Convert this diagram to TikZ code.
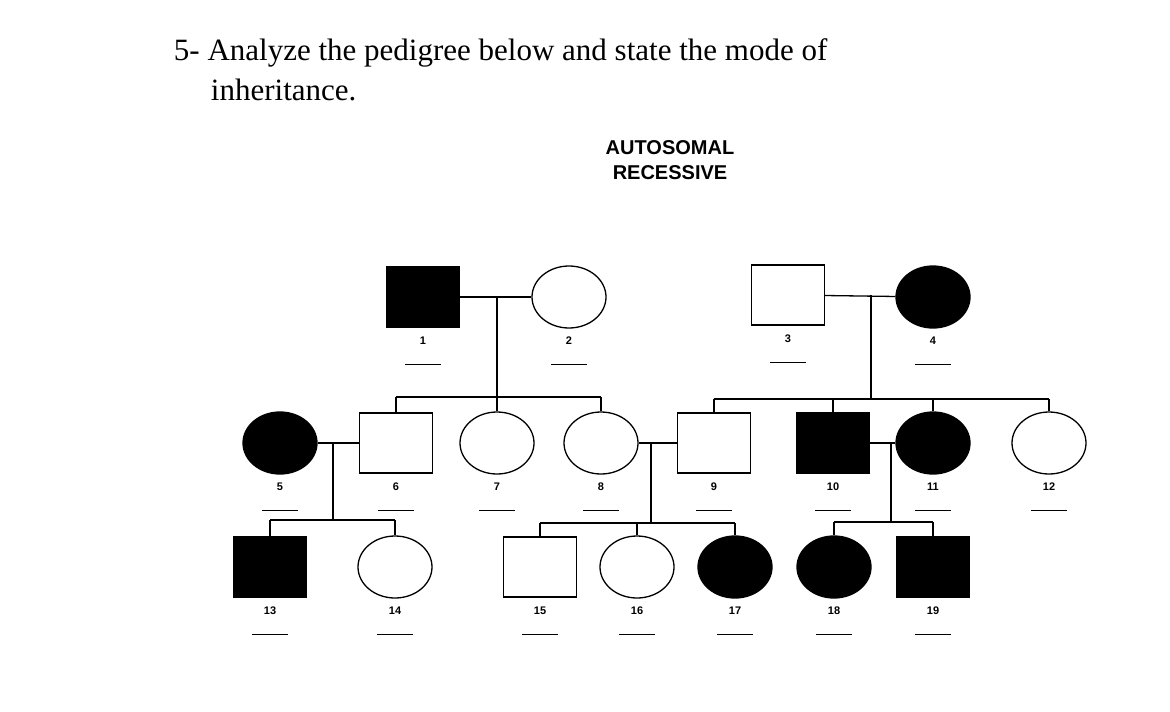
\documentclass[tikz,border=0pt]{standalone}
\usepackage{fontspec}
\setmainfont{Liberation Serif}
\newfontfamily\sansf{Liberation Sans}
\usetikzlibrary{shapes.geometric}
\begin{document}
\begin{tikzpicture}[x=1pt,y=-1pt,line width=1.3pt,
 sq/.style={draw,rectangle,minimum width=73pt,minimum height=60pt,inner sep=0pt},
 ci/.style={draw,ellipse,minimum width=74pt,minimum height=62pt,inner sep=0pt},
 aff/.style={fill=black},
 lab/.style={font=\sansf\fontsize{11}{11}\selectfont\bfseries},
 ul/.style={line width=1pt}]
\useasboundingbox (0,0) rectangle (1170,712);
\node[anchor=base west,font=\fontsize{31}{31}\selectfont] (t1) at (170,60) {5- Analyze the pedigree below and state the mode of};
\node[anchor=base west,font=\fontsize{31}{31}\selectfont] (t2) at (207,100) {inheritance.};
\node[align=center,font=\sansf\bfseries\fontsize{20}{25}\selectfont] (ans) at (670,160) {AUTOSOMAL\\RECESSIVE};
% individuals
\foreach \n/\x/\y/\s/\f in {1/423/297/sq/aff,2/569/297/ci/,3/788/295/sq/,4/933/297/ci/aff,
 5/280/443/ci/aff,6/396/443/sq/,7/497/443/ci/,8/601/443/ci/,9/714/443/sq/,10/833/443/sq/aff,11/933/443/ci/aff,12/1049/443/ci/,
 13/270/567/sq/aff,14/395/567/ci/,15/540/567/sq/,16/637/567/ci/,17/735/567/ci/aff,18/834/567/ci/aff,19/933/567/sq/aff}{
 \node[\s,\f] (p\n) at (\x,\y) {};
 \node[lab] (l\n) at (\x,\y+44) {\n};
 \coordinate (ua\n) at (\x-18,\y+67);
 \coordinate (ub\n) at (\x+18,\y+67);
 \draw[ul] (ua\n) -- (ub\n);
}
% couples
\coordinate (m12) at (497,297); \coordinate (s12) at (497,397);
\draw (p1) -- (p2); \draw (m12) -- (s12);
\coordinate (a6) at (396,397); \coordinate (a7) at (497,397); \coordinate (a8) at (601,397);
\draw (a6) -- (a8); \draw (a6) -- (p6); \draw (a7) -- (p7); \draw (a8) -- (p8);
\coordinate (m34) at (871,295); \coordinate (s34) at (871,399);
\draw (p3) -- (p4); \draw (m34) -- (s34);
\coordinate (a9) at (714,399); \coordinate (a10) at (833,399); \coordinate (a11) at (933,399); \coordinate (a12) at (1049,399);
\draw (a9) -- (a12); \draw (a9) -- (p9); \draw (a10) -- (p10); \draw (a11) -- (p11); \draw (a12) -- (p12);
% gen 2 couples
\coordinate (m56) at (333,443); \coordinate (s56) at (333,520);
\draw (p5) -- (p6); \draw (m56) -- (s56);
\coordinate (a13) at (270,520); \coordinate (a14) at (395,520);
\draw (a13) -- (a14); \draw (a13) -- (p13); \draw (a14) -- (p14);
\coordinate (m89) at (651,443); \coordinate (s89) at (651,523);
\draw (p8) -- (p9); \draw (m89) -- (s89);
\coordinate (a15) at (540,523); \coordinate (a16) at (637,523); \coordinate (a17) at (735,523);
\draw (a15) -- (a17); \draw (a15) -- (p15); \draw (a16) -- (p16); \draw (a17) -- (p17);
\coordinate (m1011) at (891,443); \coordinate (s1011) at (891,522);
\draw (p10) -- (p11); \draw (m1011) -- (s1011);
\coordinate (a18) at (834,522); \coordinate (a19) at (933,522);
\draw (a18) -- (a19); \draw (a18) -- (p18); \draw (a19) -- (p19);
\end{tikzpicture}
\end{document}
